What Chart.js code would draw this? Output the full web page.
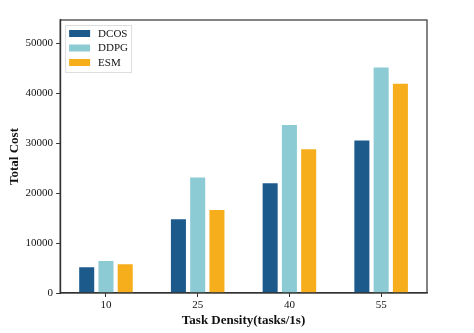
<!DOCTYPE html>
<html lang="en">
<head>
    <meta charset="UTF-8">
    <title>Total Cost vs Task Density</title>
    <script src="https://cdn.jsdelivr.net/npm/chart.js"></script>
    <style>
        html, body { margin: 0; padding: 0; background: #fff; }
        #wrap { width: 474px; height: 333px; }
    </style>
</head>
<body>
    <div id="wrap"><canvas id="costChart" width="474" height="333"></canvas></div>

    <script>
        // data
        const densities = ['10', '25', '40', '55'];
        const dcos = [5150, 14750, 21950, 30500];
        const ddpg = [6400, 23100, 33600, 45100];
        const esm = [5750, 16600, 28750, 41850];
        const yTicks = [0, 10000, 20000, 30000, 40000, 50000];

        const FONT = "'Liberation Serif', 'Times New Roman', serif";

        // box around the plot + legend inside the top-left corner
        const framePlugin = {
            id: 'frame',
            afterDraw(chart) {
                const { ctx, chartArea: a } = chart;
                ctx.save();
                ctx.strokeStyle = '#333';
                ctx.lineWidth = 1.2;
                ctx.strokeRect(a.left, a.top, a.right - a.left, a.bottom - a.top);

                // legend
                const x0 = a.left + 5, y0 = a.top + 5;
                ctx.fillStyle = '#fff';
                ctx.strokeStyle = '#ddd';
                ctx.lineWidth = 1;
                ctx.fillRect(x0, y0, 66, 47);
                ctx.strokeRect(x0 + 0.5, y0 + 0.5, 66, 47);
                ctx.font = '11px ' + FONT;
                ctx.textBaseline = 'middle';
                chart.data.datasets.forEach((ds, i) => {
                    const cy = y0 + 8.5 + i * 14.5;
                    ctx.fillStyle = ds.backgroundColor;
                    ctx.fillRect(x0 + 4, cy - 3.5, 21, 7);
                    ctx.fillStyle = '#111';
                    ctx.fillText(ds.label, x0 + 33, cy + 0.5);
                });
                ctx.restore();
            }
        };

        new Chart(document.getElementById('costChart').getContext('2d'), {
            type: 'bar',
            data: {
                labels: densities,
                datasets: [
                    { label: 'DCOS', data: dcos, backgroundColor: '#1c5a8c' },
                    { label: 'DDPG', data: ddpg, backgroundColor: '#8ccbd3' },
                    { label: 'ESM', data: esm, backgroundColor: '#f7ae1c' }
                ]
            },
            options: {
                responsive: false,
                animation: false,
                layout: { padding: { top: 20, right: 47, left: 7, bottom: 6 } },
                datasets: { bar: { categoryPercentage: 0.63, barPercentage: 0.78 } },
                plugins: { legend: { display: false }, tooltip: { enabled: false } },
                scales: {
                    x: {
                        grid: { display: true, offset: false, drawOnChartArea: false, tickLength: 4, color: '#333' },
                        border: { color: '#333', width: 1.2 },
                        ticks: { color: '#111', font: { family: FONT, size: 11, lineHeight: 1 }, padding: 3 },
                        title: {
                            display: true, text: 'Task Density(tasks/1s)', color: '#111',
                            font: { family: FONT, size: 13, weight: 'bold', lineHeight: 1 },
                            padding: { top: 0, bottom: 0 }
                        }
                    },
                    y: {
                        min: 0,
                        max: 54600,
                        afterBuildTicks: axis => { axis.ticks = yTicks.map(v => ({ value: v })); },
                        grid: { display: true, drawOnChartArea: false, tickLength: 4, color: '#333' },
                        border: { color: '#333', width: 1.2 },
                        ticks: {
                            color: '#111', font: { family: FONT, size: 11 }, padding: 3,
                            callback: v => String(v)
                        },
                        title: {
                            display: true, text: 'Total Cost', color: '#111',
                            font: { family: FONT, size: 13, weight: 'bold' }, padding: { top: 0, bottom: 0 }
                        }
                    }
                }
            },
            plugins: [framePlugin]
        });
    </script>
</body>
</html>
